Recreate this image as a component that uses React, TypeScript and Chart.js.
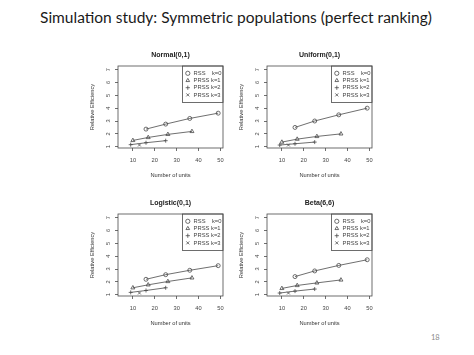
import React, { useEffect, useRef } from "react";
import { Chart, registerables } from "chart.js";

Chart.register(...registerables);

// ---------- data ----------
const PAGE_TITLE = "Simulation study: Symmetric populations (perfect ranking)";
const PAGE_NUMBER = "18";
const X_LABEL = "Number of units";
const Y_LABEL = "Relative Efficiency";
const X_TICKS = [10, 20, 30, 40, 50];
const Y_TICKS = [1, 2, 3, 4, 5, 6, 7];
const SERIES_LABELS = ["RSS    k=0", "PRSS k=1", "PRSS k=2", "PRSS k=3"];
const POINT_STYLES = ["circle", "triangle", "cross", "crossRot"];

const X_RSS = [16, 25, 36, 49];
const X_K1 = [10, 17, 26, 37];
const X_K2 = [9, 16, 25];
const X_K3 = [13];

const NORMAL_RSS = [2.37, 2.76, 3.2, 3.61];
const NORMAL_K1 = [1.49, 1.72, 1.96, 2.19];
const NORMAL_K2 = [1.16, 1.31, 1.47];
const NORMAL_K3 = [1.13];

const UNIFORM_RSS = [2.5, 3.0, 3.48, 4.0];
const UNIFORM_K1 = [1.36, 1.59, 1.8, 2.0];
const UNIFORM_K2 = [1.13, 1.23, 1.36];
const UNIFORM_K3 = [1.13];

const LOGISTIC_RSS = [2.2, 2.56, 2.9, 3.26];
const LOGISTIC_K1 = [1.54, 1.77, 2.03, 2.31];
const LOGISTIC_K2 = [1.18, 1.33, 1.54];
const LOGISTIC_K3 = [1.13];

const BETA_RSS = [2.41, 2.85, 3.28, 3.72];
const BETA_K1 = [1.49, 1.72, 1.92, 2.15];
const BETA_K2 = [1.13, 1.28, 1.44];
const BETA_K3 = [1.13];

const X_SERIES = [X_RSS, X_K1, X_K2, X_K3];

// ---------- styles ----------
const FAMILY = "'Liberation Sans', Arial, sans-serif";
const INK = "#4a4a4a";
const CANVAS_W = 148;
const CANVAS_H = 140;
const LEG_W = 40.5;
const LEG_H = 36.5;

const framePlugin = {
  id: "rframe",
  afterLayout(chart: any) {
    const a = chart.chartArea;
    const lg = chart.legend;
    if (!lg) return;
    const boxLeft = a.right - LEG_W;
    lg.left = boxLeft + 1.0;
    lg.top = a.top + 3.0;
    lg.right = a.right;
    lg.bottom = a.top + LEG_H;
    lg.width = lg.right - lg.left;
    lg.height = lg.bottom - lg.top;
  },
  beforeDatasetsDraw(chart: any) {
    const { ctx, chartArea: a } = chart;
    ctx.save();
    ctx.strokeStyle = INK;
    ctx.lineWidth = 0.8;
    ctx.strokeRect(a.left, a.top, a.right - a.left, a.bottom - a.top);
    ctx.strokeRect(a.right - LEG_W, a.top, LEG_W, LEG_H);
    ctx.restore();
  },
};

type PanelProps = {
  title: string;
  ys: number[][];
  left: number;
  top: number;
};

function Panel({ title, ys, left, top }: PanelProps) {
  const ref = useRef<HTMLCanvasElement | null>(null);

  useEffect(() => {
    if (!ref.current) return;
    const datasets = ys.map((vals, i) => ({
      label: SERIES_LABELS[i],
      data: vals.map((y, j) => ({ x: X_SERIES[i][j], y })),
      showLine: true,
      borderColor: INK,
      borderWidth: 0.8,
      pointStyle: POINT_STYLES[i],
      pointRadius: i === 1 ? 2.3 : 2.0,
      pointBorderColor: INK,
      pointBackgroundColor: "rgba(0,0,0,0)",
      pointBorderWidth: 0.8,
    }));

    const chart = new Chart(ref.current, {
      type: "scatter",
      data: { datasets },
      plugins: [framePlugin],
      options: {
        animation: false,
        responsive: false,
        devicePixelRatio: 1,
        events: [],
        layout: { padding: { left: 0, top: 0, right: 10, bottom: 0 } },
        plugins: {
          tooltip: { enabled: false },
          title: {
            display: true,
            text: title,
            fullSize: false,
            color: "#222",
            font: { family: FAMILY, size: 7, weight: "bold" },
            padding: { top: 5.8, bottom: 6.8 },
          },
          legend: {
            display: true,
            position: "chartArea",
            align: "start",
            labels: {
              usePointStyle: true,
              boxWidth: 6,
              boxHeight: 3,
              padding: 1.4,
              color: "#444",
              font: { family: FAMILY, size: 5.8 },
            },
          },
        },
        scales: {
          x: {
            type: "linear",
            min: 3.2,
            max: 51.2,
            afterBuildTicks: (s: any) => {
              s.ticks = X_TICKS.map((v) => ({ value: v }));
            },
            afterFit: (s: any) => {
              s.height = 37;
            },
            grid: {
              drawOnChartArea: false,
              drawTicks: true,
              tickLength: 3,
              color: INK,
              lineWidth: 0.8,
            },
            border: { display: false },
            ticks: {
              autoSkip: false,
              maxRotation: 0,
              padding: 6.1,
              color: "#444",
              font: { family: FAMILY, size: 5.7 },
            },
            title: {
              display: true,
              text: X_LABEL,
              color: "#333",
              font: { family: FAMILY, size: 5.7 },
              padding: { top: 0, bottom: 6.6 },
            },
          },
          y: {
            type: "linear",
            min: 0.9,
            max: 7.28,
            afterBuildTicks: (s: any) => {
              s.ticks = Y_TICKS.map((v) => ({ value: v }));
            },
            afterFit: (s: any) => {
              s.width = 33;
            },
            grid: {
              drawOnChartArea: false,
              drawTicks: true,
              tickLength: 3,
              color: INK,
              lineWidth: 0.8,
            },
            border: { display: false },
            ticks: {
              autoSkip: false,
              minRotation: 90,
              maxRotation: 90,
              crossAlign: "center",
              padding: 5.1,
              color: "#444",
              font: { family: FAMILY, size: 5.7 },
            },
            title: {
              display: true,
              text: Y_LABEL,
              color: "#333",
              font: { family: FAMILY, size: 5.7 },
              padding: { top: 3.9, bottom: 0 },
            },
          },
        },
      } as any,
    });
    return () => chart.destroy();
  }, [title, ys]);

  return (
    <canvas
      ref={ref}
      width={CANVAS_W}
      height={CANVAS_H}
      style={{
        position: "absolute",
        left,
        top,
        width: CANVAS_W,
        height: CANVAS_H,
        display: "block",
      }}
    />
  );
}

const PANELS = [
  { title: "Normal(0,1)", ys: [NORMAL_RSS, NORMAL_K1, NORMAL_K2, NORMAL_K3], left: 85, top: 45 },
  { title: "Uniform(0,1)", ys: [UNIFORM_RSS, UNIFORM_K1, UNIFORM_K2, UNIFORM_K3], left: 234, top: 45 },
  { title: "Logistic(0,1)", ys: [LOGISTIC_RSS, LOGISTIC_K1, LOGISTIC_K2, LOGISTIC_K3], left: 85, top: 193 },
  { title: "Beta(6,6)", ys: [BETA_RSS, BETA_K1, BETA_K2, BETA_K3], left: 234, top: 193 },
];

export default function App() {
  return (
    <div
      style={{
        position: "absolute",
        left: 0,
        top: 0,
        width: 474,
        height: 355,
        background: "#ffffff",
        overflow: "hidden",
      }}
    >
      <div
        style={{
          position: "absolute",
          left: 0,
          top: 6,
          width: 472,
          textAlign: "center",
          fontFamily: "Lato, 'Open Sans', sans-serif",
          fontSize: 15.5,
          lineHeight: "22px",
          color: "#1a1a1a",
          whiteSpace: "nowrap",
        }}
      >
        {PAGE_TITLE}
      </div>
      {PANELS.map((p) => (
        <Panel key={p.title} title={p.title} ys={p.ys} left={p.left} top={p.top} />
      ))}
      <div
        style={{
          position: "absolute",
          left: 431,
          top: 333,
          fontFamily: "Lato, sans-serif",
          fontSize: 7.5,
          lineHeight: "10px",
          color: "#888",
        }}
      >
        {PAGE_NUMBER}
      </div>
    </div>
  );
}
